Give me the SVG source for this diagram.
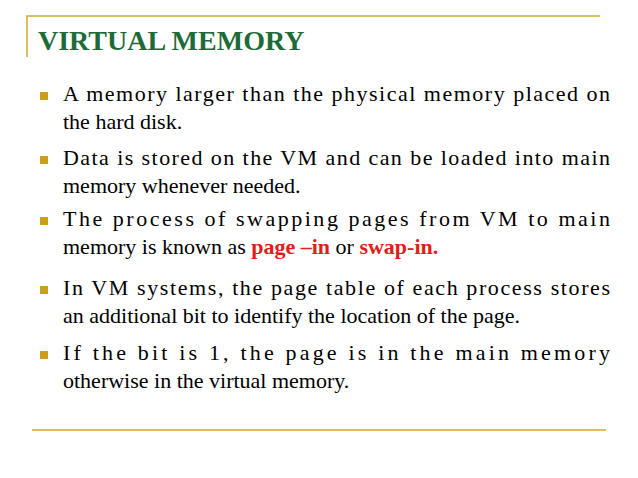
<svg xmlns="http://www.w3.org/2000/svg" width="638" height="478" viewBox="0 0 638 478">
<style>
.r{fill:#e31b1b;font-weight:bold}
.b{fill:#c9a017}
.l{stroke:#d4a82a;stroke-width:1.5;fill:none}
</style>
<rect width="638" height="478" fill="#fff"/>
<path class="l" d="M27 57V16H600"/>
<path class="l" d="M32 430H606"/>
<g id="title"><text x="38" y="50" font-family="Liberation Serif, serif" font-size="28" font-weight="bold" fill="#1e6b3a">VIRTUAL MEMORY</text></g>
<g id="bullets" font-family="Liberation Serif, serif" font-size="22" fill="#000">
<rect class="b" x="40" y="92" width="8" height="8"/>
<rect class="b" x="40" y="156" width="8" height="8"/>
<rect class="b" x="40" y="217" width="8" height="8"/>
<rect class="b" x="40" y="286" width="8" height="8"/>
<rect class="b" x="40" y="351" width="8" height="8"/>
<text x="63" y="101" textLength="547" lengthAdjust="spacing">A memory larger than the physical memory placed on</text>
<text x="63" y="129">the hard disk.</text>
<text x="63" y="165" textLength="547" lengthAdjust="spacing">Data is stored on the VM and can be loaded into main</text>
<text x="63" y="193">memory whenever needed.</text>
<text x="63" y="226" textLength="547" lengthAdjust="spacing">The process of swapping pages from VM to main</text>
<text x="63" y="254">memory is known as <tspan class="r">page –in</tspan> or <tspan class="r">swap-in.</tspan></text>
<text x="63" y="295" textLength="547" lengthAdjust="spacing">In VM systems, the page table of each process stores</text>
<text x="63" y="323">an additional bit to identify the location of the page.</text>
<text x="63" y="360" textLength="547" lengthAdjust="spacing">If the bit is 1, the page is in the main memory</text>
<text x="63" y="388">otherwise in the virtual memory.</text>
</g>
</svg>
